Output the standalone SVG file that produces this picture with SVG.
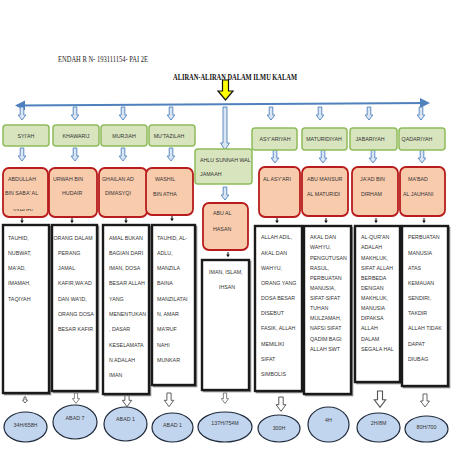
<svg xmlns="http://www.w3.org/2000/svg" width="452" height="452" viewBox="0 0 452 452">
<style>
.t{font-family:"Liberation Sans Narrow","Liberation Sans",Arial,sans-serif;font-size:5.3px;fill:#333}
.c{text-anchor:middle}
.g{fill:#d7e4bd;stroke:#8fbc5a;stroke-width:1.5}
.r{fill:#f9cbad;stroke:#b81c1c;stroke-width:1.8}
.b{fill:#fff;stroke:#1a1a1a;stroke-width:2.4}
.bs{fill:none;stroke:#8a8a8a;stroke-width:1.6}
.e{fill:#c2d5ee;stroke:#1f2a3a;stroke-width:1.2}
.ba{fill:#dbe6f4;stroke:#4f81bd;stroke-width:0.9}
.wa{fill:#fff;stroke:#555;stroke-width:0.9}
</style>
<defs>
<path id="ba" d="M-1.8 0h3.6v8h2l-3.8 5l-3.8-5h2z"/>
<path id="wa" d="M-2 0h4v7h2.5l-4.5 6l-4.5-6h2.5z"/>
<path id="ka" d="M-0.5 0h1v2.6h1.3l-1.8 2.6l-1.8-2.6h1.3z" fill="#111"/>
<marker id="ah" viewBox="0 0 10 10" refX="8" refY="5" markerWidth="5" markerHeight="5" orient="auto-start-reverse"><path d="M0 0L10 5L0 10z" fill="#4f81bd"/></marker>
</defs>

<text x="58" y="62" font-family="Liberation Serif,serif" font-size="8" fill="#222" textLength="90" lengthAdjust="spacingAndGlyphs">ENDAH R N- 193111154- PAI 2E</text>
<text x="173" y="80" font-family="Liberation Serif,serif" font-size="8.5" font-weight="bold" fill="#111" textLength="124" lengthAdjust="spacingAndGlyphs">ALIRAN-ALIRAN DALAM ILMU KALAM</text>

<g id="connectors">
<path d="M222.5 80h6v11h4.5l-7.5 9l-7.5-9h4.5z" fill="#ffff00" stroke="#111" stroke-width="1.2"/>
<line x1="17" y1="105.5" x2="428" y2="103" stroke="#4f81bd" stroke-width="2" marker-start="url(#ah)" marker-end="url(#ah)"/>
<g class="ba">
<use href="#ba" x="22" y="107"/><use href="#ba" x="75" y="107"/><use href="#ba" x="123" y="107"/><use href="#ba" x="171" y="107"/>
<use href="#ba" x="271" y="107"/><use href="#ba" x="320" y="107"/><use href="#ba" x="369" y="107"/><use href="#ba" x="421" y="107"/>
<path d="M223 107h4v36h2.5l-4.5 7l-4.5-7h2.5z"/>
<use href="#ba" x="22" y="148"/><use href="#ba" x="75" y="148"/><use href="#ba" x="123" y="148"/><use href="#ba" x="171" y="148"/>
<use href="#ba" x="275" y="150"/><use href="#ba" x="323" y="150"/><use href="#ba" x="373" y="150"/><use href="#ba" x="422" y="150"/>
<use href="#ba" x="225" y="187"/>
</g>
<use href="#ka" x="22" y="218"/><use href="#ka" x="72" y="218"/><use href="#ka" x="126" y="218"/><use href="#ka" x="172" y="216"/>
<use href="#ka" x="228" y="252"/>
<use href="#ka" x="277" y="218"/><use href="#ka" x="326" y="218"/><use href="#ka" x="376" y="218"/><use href="#ka" x="424" y="218"/>
<g class="wa">
<path d="M24 397h2v3h1.5l-2.5 3l-2.5-3h1.5z"/>
<use href="#wa" x="76" y="393" transform="translate(76 393) scale(0.8) translate(-76 -393)"/>
<use href="#wa" x="127" y="393" transform="translate(127 393) scale(1.05) translate(-127 -393)"/>
<use href="#wa" x="169" y="393" transform="translate(169 393) scale(1.05) translate(-169 -393)"/>
<use href="#wa" x="225" y="393" transform="translate(225 393) scale(0.8) translate(-225 -393)"/>
<use href="#wa" x="281" y="397" transform="translate(281 397) scale(1.1) translate(-281 -397)"/>
<use href="#wa" x="380" y="391" transform="translate(380 391) scale(1.25) translate(-380 -391)"/>
<use href="#wa" x="425" y="394" transform="translate(425 394) scale(1.0) translate(-425 -394)"/>
</g>
</g>

<g id="syiah"><rect class="g" x="3" y="125" width="46" height="21" rx="3"/><text class="t c" x="26" y="138">SYI'AH</text></g>
<g id="khawarij"><rect class="g" x="53" y="125" width="46" height="21" rx="3"/><text class="t c" x="76" y="138">KHAWARIJ</text></g>
<g id="murjiah"><rect class="g" x="101" y="125" width="46" height="21" rx="3"/><text class="t c" x="124" y="138">MURJIAH</text></g>
<g id="mutazilah"><rect class="g" x="149" y="125" width="46" height="21" rx="3"/><text class="t c" x="169" y="138">MU'TAZILAH</text></g>
<g id="ahlu"><rect class="g" x="195" y="149" width="57" height="35" rx="3"/><text class="t" x="200" y="162">AHLU SUNNAH WAL</text><text class="t" x="200" y="176">JAMAAH</text></g>
<g id="asyariyah"><rect class="g" x="252" y="128" width="45" height="22" rx="3"/><text class="t c" x="275" y="141">ASY'ARIYAH</text></g>
<g id="maturidiyah"><rect class="g" x="302" y="128" width="45" height="22" rx="3"/><text class="t c" x="324" y="141">MATURIDIYAH</text></g>
<g id="jabariyah"><rect class="g" x="350" y="128" width="47" height="22" rx="3"/><text class="t c" x="370" y="141">JABARIYAH</text></g>
<g id="qadariyah"><rect class="g" x="399" y="128" width="46" height="22" rx="3"/><text class="t c" x="417" y="141">QADARIYAH</text></g>

<clipPath id="cp1"><rect x="3" y="168" width="45" height="43"/></clipPath>
<g id="abdullah"><rect class="r" x="3" y="168" width="45" height="49" rx="6"/><g clip-path="url(#cp1)"><text class="t" x="8" y="181">ABDULLAH</text><text class="t" x="5" y="195">BIN SABA' AL</text><text class="t" x="13" y="213">YAHUDI</text></g></g>
<g id="urwah"><rect class="r" x="49" y="168" width="48" height="49" rx="6"/><text class="t" x="53" y="181">URWAH BIN</text><text class="t" x="62" y="195">HUDAIR</text></g>
<g id="ghailan"><rect class="r" x="99" y="168" width="48" height="49" rx="6"/><text class="t" x="102" y="181">GHAILAN AD</text><text class="t" x="105" y="195">DIMASYQI</text></g>
<g id="washil"><rect class="r" x="146" y="168" width="47" height="47" rx="6"/><text class="t" x="155" y="181">WASHIL</text><text class="t" x="153" y="196">BIN ATHA</text></g>
<g id="abualhasan"><rect class="r" x="203" y="203" width="45" height="47" rx="6"/><text class="t" x="213" y="215">ABU AL</text><text class="t" x="213" y="231">HASAN</text></g>
<g id="alasyari"><rect class="r" x="259" y="167" width="41" height="50" rx="6"/><text class="t" x="263" y="181">AL ASY'ARI</text></g>
<g id="abumansur"><rect class="r" x="302" y="167" width="46" height="49" rx="6"/><text class="t" x="307" y="181">ABU MANSUR</text><text class="t" x="307" y="196">AL MATURIDI</text></g>
<g id="jaad"><rect class="r" x="352" y="167" width="46" height="49" rx="6"/><text class="t" x="360" y="181">JA'AD BIN</text><text class="t" x="361" y="196">DIRHAM</text></g>
<g id="mabad"><rect class="r" x="400" y="167" width="45" height="49" rx="6"/><text class="t" x="408" y="181">MA'BAD</text><text class="t" x="403" y="196">AL JAUHANI</text></g>

<g id="ajaran1"><rect class="bs" x="4.5" y="226.5" width="46" height="168"/><rect class="b" x="3" y="225" width="46" height="168"/>
<text class="t" x="8"><tspan x="8" y="240">TAUHID,</tspan><tspan x="8" y="255">NUBWAT,</tspan><tspan x="8" y="270">MA'AD,</tspan><tspan x="8" y="285">IMAMAH,</tspan><tspan x="8" y="301">TAQIYAH</tspan></text></g>
<g id="ajaran2"><rect class="bs" x="53.5" y="226.5" width="45" height="166"/><rect class="b" x="52" y="225" width="45" height="166"/>
<text class="t"><tspan x="53.5" y="240">ORANG DALAM</tspan><tspan x="58" y="255">PERANG</tspan><tspan x="58" y="270">JAMAL</tspan><tspan x="58" y="285">KAFIR,WA'AD</tspan><tspan x="58" y="301">DAN WA'ID,</tspan><tspan x="58" y="316">ORANG DOSA</tspan><tspan x="58" y="331">BESAR KAFIR</tspan></text></g>
<g id="ajaran3"><rect class="bs" x="104.5" y="226.5" width="46" height="169"/><rect class="b" x="103" y="225" width="46" height="169"/>
<text class="t"><tspan x="109" y="240">AMAL BUKAN</tspan><tspan x="109" y="255">BAGIAN DARI</tspan><tspan x="109" y="270">IMAN, DOSA</tspan><tspan x="109" y="285">BESAR ALLAH</tspan><tspan x="109" y="301">YANG</tspan><tspan x="109" y="316">MENENTUKAN</tspan><tspan x="109" y="331">, DASAR</tspan><tspan x="109" y="347">KESELAMATA</tspan><tspan x="109" y="362">N ADALAH</tspan><tspan x="109" y="377">IMAN</tspan></text></g>
<g id="ajaran4"><rect class="bs" x="153.5" y="226.5" width="43" height="160"/><rect class="b" x="152" y="225" width="43" height="160"/>
<text class="t"><tspan x="157" y="240">TAUHID, AL-</tspan><tspan x="157" y="255">ADLU,</tspan><tspan x="157" y="270">MANZILA</tspan><tspan x="157" y="285">BAINA</tspan><tspan x="157" y="301">MANZILATAI</tspan><tspan x="157" y="316">N, AMAR</tspan><tspan x="157" y="331">MA'RUF</tspan><tspan x="157" y="347">NAHI</tspan><tspan x="157" y="362">MUNKAR</tspan></text></g>
<g id="ajaran5"><rect class="bs" x="203.5" y="261.5" width="47" height="130"/><rect class="b" x="202" y="260" width="47" height="130"/>
<text class="t"><tspan x="209" y="274">IMAN, ISLAM,</tspan><tspan x="219" y="289">IHSAN</tspan></text></g>
<g id="ajaran6"><rect class="bs" x="256.5" y="227.5" width="47" height="165"/><rect class="b" x="255" y="226" width="47" height="165"/>
<text class="t"><tspan x="261" y="239">ALLAH ADIL,</tspan><tspan x="261" y="255">AKAL DAN</tspan><tspan x="261" y="270">WAHYU,</tspan><tspan x="261" y="285">ORANG YANG</tspan><tspan x="261" y="300">DOSA BESAR</tspan><tspan x="261" y="315">DISEBUT</tspan><tspan x="261" y="330">FASIK, ALLAH</tspan><tspan x="261" y="346">MEMILIKI</tspan><tspan x="261" y="361">SIFAT</tspan><tspan x="261" y="376">SIMBOLIS</tspan></text></g>
<g id="ajaran7"><rect class="bs" x="305.5" y="227.5" width="47" height="168"/><rect class="b" x="304" y="226" width="47" height="168"/>
<text class="t"><tspan x="310" y="239">AKAL DAN</tspan><tspan x="310" y="249">WAHYU,</tspan><tspan x="310" y="260">PENGUTUSAN</tspan><tspan x="310" y="270">RASUL,</tspan><tspan x="310" y="280">PERBUATAN</tspan><tspan x="310" y="290">MANUSIA,</tspan><tspan x="310" y="300">SIFAT-SIFAT</tspan><tspan x="310" y="310">TUHAN</tspan><tspan x="310" y="320">MULZAMAH,</tspan><tspan x="310" y="330">NAFSI SIFAT</tspan><tspan x="310" y="341">QADIM BAGI</tspan><tspan x="310" y="351">ALLAH SWT</tspan></text></g>
<g id="ajaran8"><rect class="bs" x="356.5" y="227.5" width="45" height="156"/><rect class="b" x="355" y="226" width="45" height="156"/>
<text class="t"><tspan x="361" y="239">AL-QUR'AN</tspan><tspan x="361" y="249">ADALAH</tspan><tspan x="361" y="260">MAKHLUK,</tspan><tspan x="361" y="270">SIFAT ALLAH</tspan><tspan x="361" y="280">BERBEDA</tspan><tspan x="361" y="290">DENGAN</tspan><tspan x="361" y="300">MAKHLUK,</tspan><tspan x="361" y="310">MANUSIA</tspan><tspan x="361" y="320">DIPAKSA</tspan><tspan x="361" y="330">ALLAH</tspan><tspan x="361" y="341">DALAM</tspan><tspan x="361" y="351">SEGALA HAL</tspan></text></g>
<g id="ajaran9"><rect class="bs" x="403.5" y="227.5" width="46" height="160"/><rect class="b" x="402" y="226" width="46" height="160"/>
<text class="t"><tspan x="408" y="239">PERBUATAN</tspan><tspan x="408" y="255">MANUSIA</tspan><tspan x="408" y="270">ATAS</tspan><tspan x="408" y="285">KEMAUAN</tspan><tspan x="408" y="300">SENDIRI,</tspan><tspan x="408" y="315">TAKDIR</tspan><tspan x="408" y="330">ALLAH TIDAK</tspan><tspan x="408" y="346">DAPAT</tspan><tspan x="408" y="361">DIUBAG</tspan></text></g>

<g id="era1"><ellipse class="e" cx="25.5" cy="427" rx="21.5" ry="15"/><text class="t c" x="25.5" y="427">34H/658H</text></g>
<g id="era2"><ellipse class="e" cx="75" cy="422" rx="22" ry="17"/><text class="t c" x="75" y="420">ABAD 7</text></g>
<g id="era3"><ellipse class="e" cx="125.5" cy="424" rx="21.5" ry="17"/><text class="t c" x="125.5" y="421">ABAD 1</text></g>
<g id="era4"><ellipse class="e" cx="172.5" cy="427.5" rx="20.5" ry="14.5"/><text class="t c" x="172.5" y="427">ABAD 1</text></g>
<g id="era5"><ellipse class="e" cx="225" cy="427" rx="27" ry="15"/><text class="t c" x="225" y="425">137H/754M</text></g>
<g id="era6"><ellipse class="e" cx="279" cy="428.5" rx="21" ry="13.5"/><text class="t c" x="279" y="430">300H</text></g>
<g id="era7"><ellipse class="e" cx="328.5" cy="424.5" rx="20.5" ry="17.5"/><text class="t c" x="328.5" y="422">4H</text></g>
<g id="era8"><ellipse class="e" cx="378.5" cy="427.5" rx="21.5" ry="14.5"/><text class="t c" x="378.5" y="425">2H/8M</text></g>
<g id="era9"><ellipse class="e" cx="426.5" cy="429" rx="21.5" ry="13"/><text class="t c" x="426.5" y="429">80H/700</text></g>
</svg>
